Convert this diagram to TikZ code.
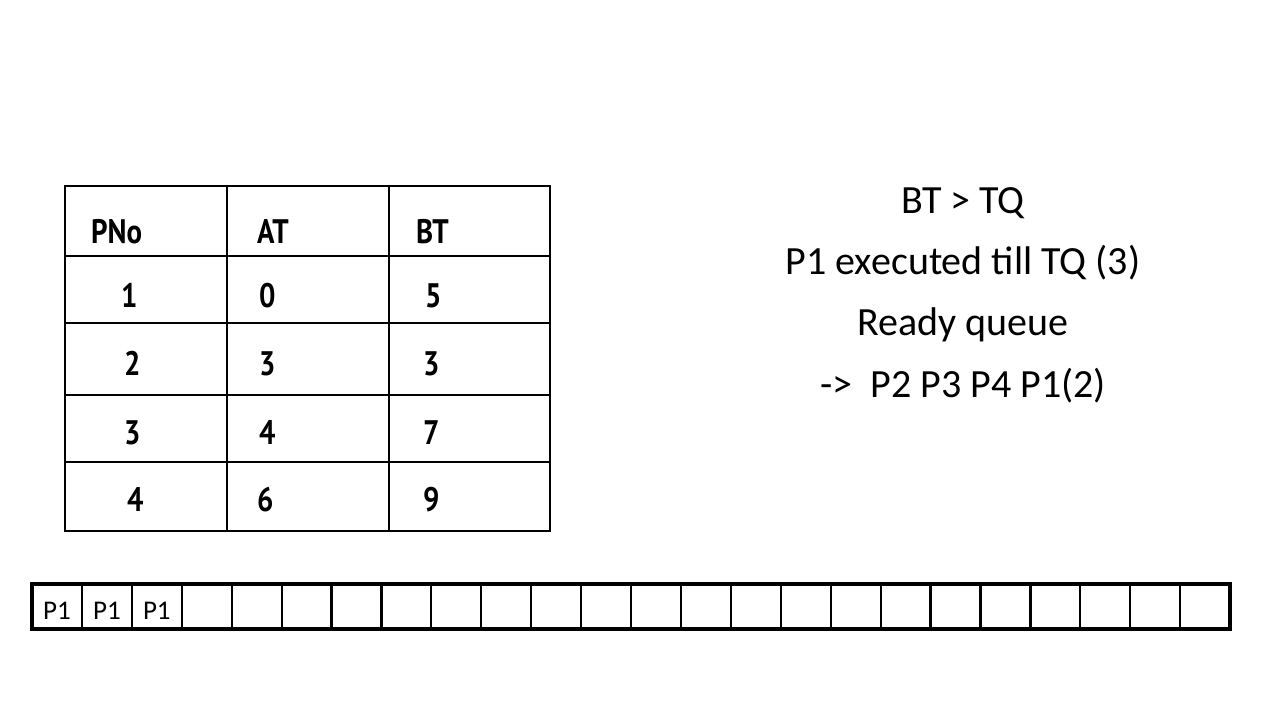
\documentclass[tikz,border=0pt]{standalone}
\usepackage{fontspec}
\setmainfont{Carlito}
\newfontfamily\tabfont{PT Sans}
\begin{document}
\begin{tikzpicture}[x=1pt,y=-1pt,
  tab/.style={font=\tabfont\bfseries\fontsize{34}{34}\selectfont, inner sep=0pt, anchor=base west, xscale=0.85},
  rt/.style={font=\fontsize{40}{40}\selectfont, inner sep=0pt, anchor=base},
  cellx/.style={font=\fontsize{27}{27}\selectfont, inner sep=0pt, anchor=base}]
\useasboundingbox (0,0) rectangle (1280,720);
% table
\draw[line width=2.2pt] (65,186) rectangle (550,531);
\foreach \x in {227,389} \draw[line width=2.2pt] (\x,186) -- (\x,531);
\foreach \y in {256,323,395,462} \draw[line width=2.2pt] (65,\y) -- (550,\y);
\node[tab] (h1) at (91,243) {PNo};
\node[tab] (h2) at (257,243) {AT};
\node[tab] (h3) at (416,243) {BT};
\node[tab] (a1) at (121,307) {1};
\node[tab] (b1) at (259,307) {0};
\node[tab] (c1) at (425,307) {5};
\node[tab] (a2) at (124,375) {2};
\node[tab] (b2) at (259,375) {3};
\node[tab] (c2) at (423,375) {3};
\node[tab] (a3) at (124,444) {3};
\node[tab] (b3) at (259,444) {4};
\node[tab] (c3) at (423,444) {7};
\node[tab] (a4) at (127,511) {4};
\node[tab] (b4) at (257,511) {6};
\node[tab] (c4) at (423,511) {9};
% right text
\node[rt] (t1) at (963,213) {BT > TQ};
\node[rt] (t2) at (963,274) {P1 executed till TQ (3)};
\node[rt] (t3) at (963,335) {Ready queue};
\node[rt] (t4) at (963,397) {->\ \ P2 P3 P4 P1(2)};
% strip
\draw[line width=3.5pt] (32,584) rectangle (1230,629);
\foreach \i in {1,...,23} \draw[line width=2.2pt] (32+\i*49.92,584) -- (32+\i*49.92,629);
\foreach \i in {0,1,2} \node[cellx] (p\i) at (32+\i*49.92+25,619) {P1};
\end{tikzpicture}
\end{document}
